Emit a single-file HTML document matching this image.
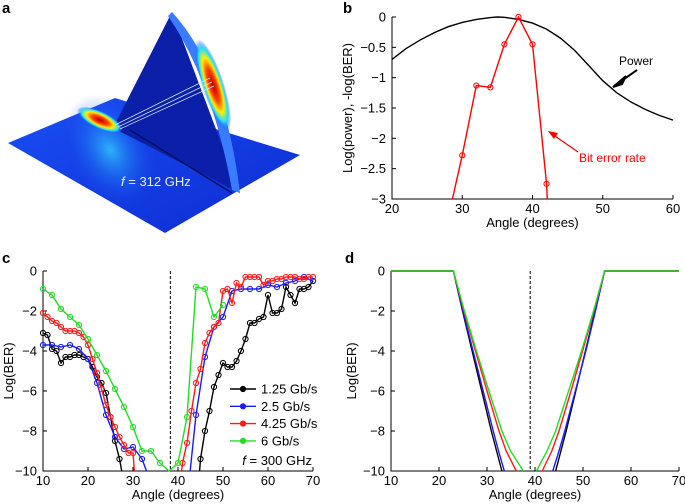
<!DOCTYPE html>
<html><head><meta charset="utf-8"><style>
body{margin:0;background:#fff;}
svg{display:block;font-family:"Liberation Sans",sans-serif;}
</style></head><body>
<svg id="fig" width="685" height="504" viewBox="0 0 685 504">
<defs>
<linearGradient id="floorG" x1="0" y1="0" x2="1" y2="1">
<stop offset="0" stop-color="#1a50f5"/><stop offset="1" stop-color="#0c2ad0"/></linearGradient>
<radialGradient id="hot" cx="0.5" cy="0.5" r="0.5">
<stop offset="0" stop-color="#c00000"/><stop offset="0.35" stop-color="#ff4000"/><stop offset="0.6" stop-color="#ffee00"/><stop offset="0.8" stop-color="#20e0ff"/><stop offset="1" stop-color="#1a4cf0" stop-opacity="0"/></radialGradient>
<radialGradient id="glow" cx="0.5" cy="0.5" r="0.5">
<stop offset="0" stop-color="#30d0ff" stop-opacity="0.8"/><stop offset="1" stop-color="#1a4cf0" stop-opacity="0"/></radialGradient>
</defs>
<g>
<text x="2" y="13" font-size="15" font-weight="bold">a</text>
<polygon points="8,143 115,98 300,155 165,233" fill="url(#floorG)"/>
<ellipse cx="110" cy="150" rx="40" ry="60" transform="rotate(-30 110 150)" fill="url(#glow)"/>
<polygon points="172,12 113,128 240,193" fill="#0c1fa8"/>
<path d="M172,12 Q225,70 240,193 L232,190 Q212,80 168,16 Z" fill="#3a7cff"/>
<ellipse cx="213" cy="85" rx="11" ry="48" transform="rotate(-18 213 85)" fill="url(#hot)"/>
<ellipse cx="100" cy="120" rx="25" ry="9" transform="rotate(25 100 120)" fill="url(#hot)"/>
<path d="M115,125 L210,78 M118,127 L212,82 M120,129 L214,86" stroke="#cfe8ff" stroke-width="0.7"/>
<line x1="130" y1="130" x2="232" y2="193" stroke="#061060" stroke-width="1.5"/>
<text x="121" y="186" font-size="13" fill="#e8f0ff"><tspan font-style="italic">f</tspan> = 312 GHz</text>
</g>
<g id="pb"></g>
<g id="pc"></g>
<g id="pd"></g>
</svg>
<script>
// Panel b data
const bPowerX=[20,22,24,26,28,30,32,34,35,36,38,40,42,44,46,48,50,52,54,56,58,60];
const bPowerY=[-0.7,-0.52,-0.38,-0.26,-0.16,-0.09,-0.04,-0.01,0,-0.005,-0.04,-0.1,-0.2,-0.35,-0.55,-0.8,-1.05,-1.25,-1.4,-1.52,-1.62,-1.7];
const bBerX=[28.6,30,32,34,36,38,40,42,42.1];
const bBerY=[-3,-2.28,-1.13,-1.16,-0.45,0,-0.45,-2.75,-3];
const bBerMarkX=[30,32,34,36,38,40,42];
const bBerMarkY=[-2.28,-1.13,-1.16,-0.45,0,-0.45,-2.75];
const bXTicks=[20,30,40,50,60];
const bYTicks=[0,-0.5,-1,-1.5,-2,-2.5,-3];
const bYLabels=["0","\u22120.5","\u22121","\u22121.5","\u22122","\u22122.5","\u22123"];

// Panel c data
const cBlackLX=[10,11,12,13,14,15,16,17,18,19,20,21,22,23,24,25,26,27,27.5];
const cBlackLY=[-3.1,-3.2,-3.9,-4.0,-4.6,-4.3,-4.3,-4.2,-4.2,-4.3,-4.4,-4.8,-5.3,-5.6,-6.1,-7.3,-8.5,-9.4,-10];
const cBlackRX=[44.8,45,46,47,48,49,50,51,52,53,54,55,56,57,58,59,60,61,62,63,64,65,66,67,68,69,70];
const cBlackRY=[-10,-9.4,-8.0,-7.0,-5.8,-5.2,-4.6,-4.8,-4.8,-4.5,-4.0,-3.4,-2.6,-2.6,-2.4,-2.3,-1.2,-2.1,-2.1,-1.9,-0.8,-1.2,-1.6,-0.9,-0.9,-0.8,-0.5];
const cBlueLX=[10,12,14,16,18,20,22,24,26,28,30,32,33];
const cBlueLY=[-3.7,-3.7,-3.8,-3.7,-3.9,-4.4,-5.6,-7.2,-8.3,-8.9,-8.8,-9.4,-10];
const cBlueRX=[42.7,44,46,48,50,52,54,56,58,60,62,64,66,68,70];
const cBlueRY=[-10,-7.2,-4.3,-2.8,-2.3,-1.0,-0.9,-0.9,-0.9,-0.7,-0.8,-0.6,-0.5,-0.3,-0.5];
const cRedLX=[10,11,12,13,14,15,16,17,18,19,20,21,22,23,24,25,26,27,28,29,30,30.3];
const cRedLY=[-2.1,-2.3,-2.5,-2.6,-2.8,-3.0,-3.0,-3.0,-3.1,-3.3,-3.7,-4.4,-5.1,-5.9,-6.7,-7.3,-7.8,-8.3,-8.7,-9.1,-9.1,-10];
const cRedRX=[40.8,41,42,43,44,45,46,47,48,49,50,51,52,53,54,55,56,57,58,59,60,61,62,63,64,65,66,67,68,69,70];
const cRedRY=[-10,-9.6,-8.6,-7.0,-5.6,-4.9,-3.6,-3.1,-2.8,-2.6,-1.0,-0.9,-1.6,-0.6,-0.8,-0.3,-0.3,-0.3,-0.3,-0.7,-0.5,-0.5,-0.4,-0.4,-0.3,-0.3,-0.3,-0.4,-0.4,-0.3,-0.3];
const cGreenX=[10,12,14,16,18,20,22,24,26,28,30,32,34,36,38,40,42,44,46,48,50];
const cGreenY=[-0.9,-1.2,-1.9,-2.3,-2.7,-3.4,-4.2,-5.0,-5.9,-6.8,-7.8,-9.0,-9.0,-9.6,-10,-9.6,-7.3,-0.8,-0.9,-2.3,-1.7];
const cdXTicks=[10,20,30,40,50,60,70];
const cdYTicks=[0,-2,-4,-6,-8,-10];
const cdYLabels=["0","\u22122","\u22124","\u22126","\u22128","\u221210"];
const legendNames=["1.25 Gb/s","2.5 Gb/s","4.25 Gb/s","6 Gb/s"];
const colors=["#000","#1a1aff","#ff1a1a","#22dd22"];

// Panel d data (x positions of curve vertices; shared y values)
const dY=[0,0,-2,-4,-6,-8,-9,-10];
const dLeftBlack=[10,23,24.9,26.9,28.9,30.9,32,33.1];
const dLeftBlue=[10,23,25,27.1,29.2,31.3,32.4,33.6];
const dLeftRed=[10,23,25.2,27.6,30.0,32.5,34.0,36.1];
const dLeftGreen=[10,23,25.3,27.8,30.4,33.1,34.9,37.6];
const dRightBlack=[70,54.5,52.5,50.5,48.5,46.5,45.4,44.3];
const dRightBlue=[70,54.5,52.6,50.6,48.4,46.2,45.0,43.7];
const dRightRed=[70,54.5,52.3,49.9,47.5,45.0,43.5,41.5];
const dRightGreen=[70,54.5,52.2,49.7,47.0,44.3,42.5,40.3];

const NS="http://www.w3.org/2000/svg";
function mk(p,tag,at){const e=document.createElementNS(NS,tag);for(const k in at)e.setAttribute(k,at[k]);p.appendChild(e);return e;}
function lin(d0,d1,r0,r1){return v=>r0+(v-d0)*(r1-r0)/(d1-d0);}

function axes(g,X,Y,x0,x1,y0,y1,xt,yt,yl,ylab,ycx){
  const ax=mk(g,'path',{d:`M${X(x0)},${Y(y0)} V${Y(y1)} H${X(x1)}`,fill:'none',stroke:'#000','stroke-width':1});
  
  xt.forEach(v=>{
    const t=mk(g,'line',{x1:X(v),x2:X(v),y1:Y(y1),y2:Y(y1)-4,stroke:'#000'});
    
    const l=mk(g,'text',{x:X(v),y:Y(y1)+14,'font-size':13,'text-anchor':'middle'});l.textContent=v;
    
  });
  yt.forEach((v,i)=>{
    const t=mk(g,'line',{x1:X(x0),x2:X(x0)+4,y1:Y(v),y2:Y(v),stroke:'#000'});
    
    const l=mk(g,'text',{x:X(x0)-6,y:Y(v)+4.5,'font-size':13,'text-anchor':'end'});l.textContent=yl[i];
    
  });
  const xl=mk(g,'text',{x:(X(x0)+X(x1))/2,y:Y(y1)+28,'font-size':13,'text-anchor':'middle'});xl.textContent='Angle (degrees)';
  
  const cy=(Y(y0)+Y(y1))/2;
  const yl2=mk(g,'text',{x:ycx,y:cy,'font-size':13,'text-anchor':'middle',transform:`rotate(-90 ${ycx} ${cy})`});yl2.textContent=ylab;
  
}
function line(g,X,Y,xs,ys,c,name){
  const p=mk(g,'polyline',{points:xs.map((x,i)=>X(x)+','+Y(ys[i])).join(' '),fill:'none',stroke:c,'stroke-width':1.4});
  
}
function marks(g,X,Y,xs,ys,c,name,skipEnds){
  xs.forEach((x,i)=>{
    if(ys[i]<=-10||(skipEnds&&ys[i]<=-3))return;
    const m=mk(g,'circle',{cx:X(x),cy:Y(ys[i]),r:2.6,fill:'none',stroke:c,'stroke-width':1});
    
  });
}

// Panel b
{const g=document.getElementById('pb');
const X=lin(20,60,392,673),Y=lin(0,-3,17,199);
const lab=mk(g,'text',{x:343,y:13,'font-size':15,'font-weight':'bold'});lab.textContent='b';

axes(g,X,Y,20,60,0,-3,bXTicks,bYTicks,bYLabels,'Log(power), -log(BER)',352);
line(g,X,Y,bPowerX,bPowerY,'#000','power-curve');
line(g,X,Y,bBerX,bBerY,'#f00','ber-curve');
marks(g,X,Y,bBerMarkX,bBerMarkY,'#f00','ber-point',true);
const t1=mk(g,'text',{x:619,y:65,'font-size':12});t1.textContent='Power';

const a1=mk(g,'path',{d:'M637,70 L620,82 M613,87 L626,76 L622,84 Z',stroke:'#000','stroke-width':2,fill:'#000'});

const t2=mk(g,'text',{x:579,y:162,'font-size':12,fill:'#f00'});t2.textContent='Bit error rate';

const a2=mk(g,'path',{d:'M578,152 L552,134',stroke:'#f00','stroke-width':1.3});

const a3=mk(g,'polygon',{points:'548,131 558,133 554,139',fill:'#f00'});

}

// Panel c
{const g=document.getElementById('pc');
const X=lin(10,70,43,313),Y=lin(0,-10,271,471);
const lab=mk(g,'text',{x:2,y:263,'font-size':15,'font-weight':'bold'});lab.textContent='c';

axes(g,X,Y,10,70,0,-10,cdXTicks,cdYTicks,cdYLabels,'Log(BER)',13);
const dl=mk(g,'line',{x1:X(38.3),x2:X(38.3),y1:Y(0),y2:Y(-10),stroke:'#000','stroke-dasharray':'3,2'});

const sets=[[cBlackLX,cBlackLY,cBlackRX,cBlackRY],[cBlueLX,cBlueLY,cBlueRX,cBlueRY],[cRedLX,cRedLY,cRedRX,cRedRY]];
sets.forEach((s,i)=>{line(g,X,Y,s[0],s[1],colors[i],'ber-series-left');line(g,X,Y,s[2],s[3],colors[i],'ber-series-right');
marks(g,X,Y,s[0],s[1],colors[i],'ber-point');marks(g,X,Y,s[2],s[3],colors[i],'ber-point');});
line(g,X,Y,cGreenX,cGreenY,colors[3],'ber-series-6gbps');marks(g,X,Y,cGreenX,cGreenY,colors[3],'ber-point');
legendNames.forEach((n,i)=>{const y=389+i*17.3;
 const e=mk(g,'g',{});
 mk(e,'line',{x1:230,x2:256,y1:y,y2:y,stroke:colors[i],'stroke-width':1.4});
 mk(e,'circle',{cx:243,cy:y,r:2.6,fill:colors[i],stroke:colors[i]});
 const t=mk(e,'text',{x:261,y:y+4.5,'font-size':13});t.textContent=n;});
const f=mk(g,'text',{x:312,y:465,'font-size':13,'text-anchor':'end'});f.innerHTML='<tspan font-style="italic">f</tspan> = 300 GHz';

}

// Panel d
{const g=document.getElementById('pd');
const X=lin(10,70,391,679),Y=lin(0,-10,271,471);
const lab=mk(g,'text',{x:345,y:263,'font-size':15,'font-weight':'bold'});lab.textContent='d';

axes(g,X,Y,10,70,0,-10,cdXTicks,cdYTicks,cdYLabels,'Log(BER)',356);
const dl=mk(g,'line',{x1:X(39),x2:X(39),y1:Y(0),y2:Y(-10),stroke:'#000','stroke-dasharray':'3,2'});

const L=[dLeftBlack,dLeftBlue,dLeftRed,dLeftGreen],R=[dRightBlack,dRightBlue,dRightRed,dRightGreen];
for(let i=0;i<4;i++){line(g,X,Y,L[i],dY,colors[i],'model-curve-left');line(g,X,Y,R[i],dY,colors[i],'model-curve-right');}
}
</script>
</body></html>
